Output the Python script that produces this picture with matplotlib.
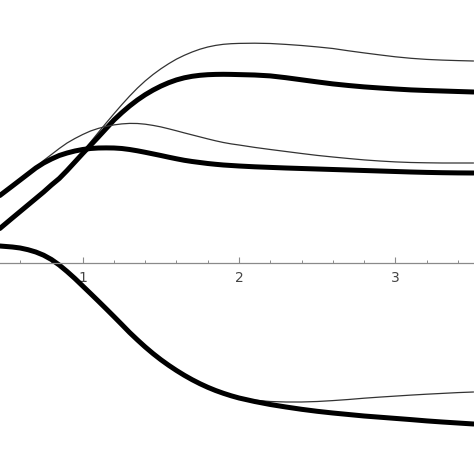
import matplotlib
matplotlib.use("Agg")
import matplotlib.pyplot as plt
from matplotlib.ticker import MultipleLocator

# time grid (x)
t = [0.47, 0.55, 0.60, 0.65, 0.70, 0.75, 0.80, 0.85, 0.90, 0.95,
     1.00, 1.05, 1.10, 1.15, 1.20, 1.25, 1.30, 1.35, 1.40, 1.45,
     1.50, 1.55, 1.60, 1.65, 1.70, 1.75, 1.80, 1.85, 1.90, 1.95,
     2.00, 2.1, 2.2, 2.3, 2.4, 2.5, 2.6, 2.7, 2.8, 2.9,
     3.0, 3.1, 3.2, 3.3, 3.4, 3.5]

# upper pair
upper_thick = [0.34, 0.445, 0.51, 0.575, 0.64, 0.705, 0.775, 0.84, 0.92, 1.005,
               1.09, 1.172, 1.255, 1.34, 1.425, 1.498, 1.565, 1.625, 1.678, 1.724,
               1.764, 1.798, 1.826, 1.847, 1.862, 1.872, 1.878, 1.881, 1.882, 1.881,
               1.879, 1.875, 1.866, 1.848, 1.827, 1.806, 1.786, 1.77, 1.756, 1.745,
               1.735, 1.726, 1.72, 1.715, 1.71, 1.705]
upper_thin = [0.34, 0.445, 0.51, 0.575, 0.64, 0.705, 0.775, 0.84, 0.92, 1.01,
              1.107, 1.204, 1.30, 1.395, 1.488, 1.578, 1.664, 1.744, 1.816, 1.88,
              1.937, 1.988, 2.034, 2.072, 2.105, 2.133, 2.155, 2.171, 2.182, 2.188,
              2.191, 2.193, 2.19, 2.181, 2.17, 2.156, 2.14, 2.117, 2.096, 2.076,
              2.057, 2.042, 2.031, 2.024, 2.019, 2.015]

# middle pair
middle_thick = [0.67, 0.765, 0.825, 0.885, 0.945, 0.995, 1.035, 1.07, 1.095, 1.115,
                1.13, 1.14, 1.145, 1.146, 1.145, 1.14, 1.13, 1.117, 1.102, 1.086,
                1.07, 1.053, 1.037, 1.022, 1.01, 1.00, 0.99, 0.982, 0.975, 0.97,
                0.965, 0.957, 0.951, 0.945, 0.94, 0.935, 0.93, 0.925, 0.92, 0.915,
                0.91, 0.905, 0.901, 0.898, 0.896, 0.895]
middle_thin = [0.67, 0.765, 0.825, 0.885, 0.945, 1.02, 1.08, 1.14, 1.195, 1.24,
               1.28, 1.315, 1.341, 1.361, 1.376, 1.386, 1.391, 1.39, 1.383, 1.371,
               1.356, 1.337, 1.317, 1.296, 1.276, 1.256, 1.236, 1.217, 1.20, 1.186,
               1.175, 1.151, 1.13, 1.11, 1.09, 1.071, 1.055, 1.04, 1.026, 1.015,
               1.006, 1.00, 0.997, 0.995, 0.995, 0.995]

# lower pair
lower_thick = [0.165, 0.155, 0.145, 0.128, 0.105, 0.073, 0.03, -0.025, -0.09, -0.16,
               -0.235, -0.31, -0.386, -0.463, -0.541, -0.62, -0.70, -0.774, -0.845, -0.911,
               -0.972, -1.028, -1.08, -1.128, -1.172, -1.212, -1.248, -1.28, -1.308, -1.333,
               -1.355, -1.39, -1.42, -1.445, -1.468, -1.488, -1.505, -1.52, -1.535, -1.547,
               -1.559, -1.571, -1.584, -1.595, -1.605, -1.615]
lower_thin = [0.165, 0.155, 0.145, 0.128, 0.105, 0.073, 0.03, -0.025, -0.09, -0.16,
              -0.235, -0.31, -0.386, -0.463, -0.541, -0.62, -0.70, -0.774, -0.845, -0.911,
              -0.972, -1.028, -1.08, -1.128, -1.172, -1.212, -1.248, -1.28, -1.308, -1.333,
              -1.355, -1.377, -1.39, -1.395, -1.395, -1.39, -1.381, -1.37, -1.357, -1.346,
              -1.336, -1.326, -1.317, -1.309, -1.301, -1.295]

tick_values = [1, 2, 3]
tick_labels = ["1", "2", "3"]

fig = plt.figure(figsize=(4.74, 4.74), dpi=100)
ax = fig.add_axes([0, 0, 1, 1])

thin_kw = dict(color="#333333", lw=0.9, solid_capstyle="round", solid_joinstyle="round")
thick_kw = dict(color="black", lw=3.6, solid_capstyle="round", solid_joinstyle="round")

for thin, thick in [(upper_thin, upper_thick), (middle_thin, middle_thick), (lower_thin, lower_thick)]:
    ax.plot(t, thin, **thin_kw)
    ax.plot(t, thick, **thick_kw)

ax.set_xlim(0.471, 3.503)
ax.set_ylim(-2.115, 2.625)

for s in ["top", "right", "left"]:
    ax.spines[s].set_visible(False)
ax.spines["bottom"].set_position(("data", 0))
ax.spines["bottom"].set_color("#8a8a8a")
ax.spines["bottom"].set_linewidth(0.9)
ax.set_yticks([])
ax.set_xticks(tick_values)
ax.set_xticklabels(tick_labels)
ax.xaxis.set_minor_locator(MultipleLocator(0.2))
ax.tick_params(axis="x", which="major", direction="in", length=4, width=0.8,
               color="#8a8a8a", labelcolor="#444444", labelsize=10, pad=6)
ax.tick_params(axis="x", which="minor", direction="in", length=2.5, width=0.7,
               color="#8a8a8a")
ax.set_facecolor("white")
fig.savefig("out.png", dpi=100, facecolor="white")
